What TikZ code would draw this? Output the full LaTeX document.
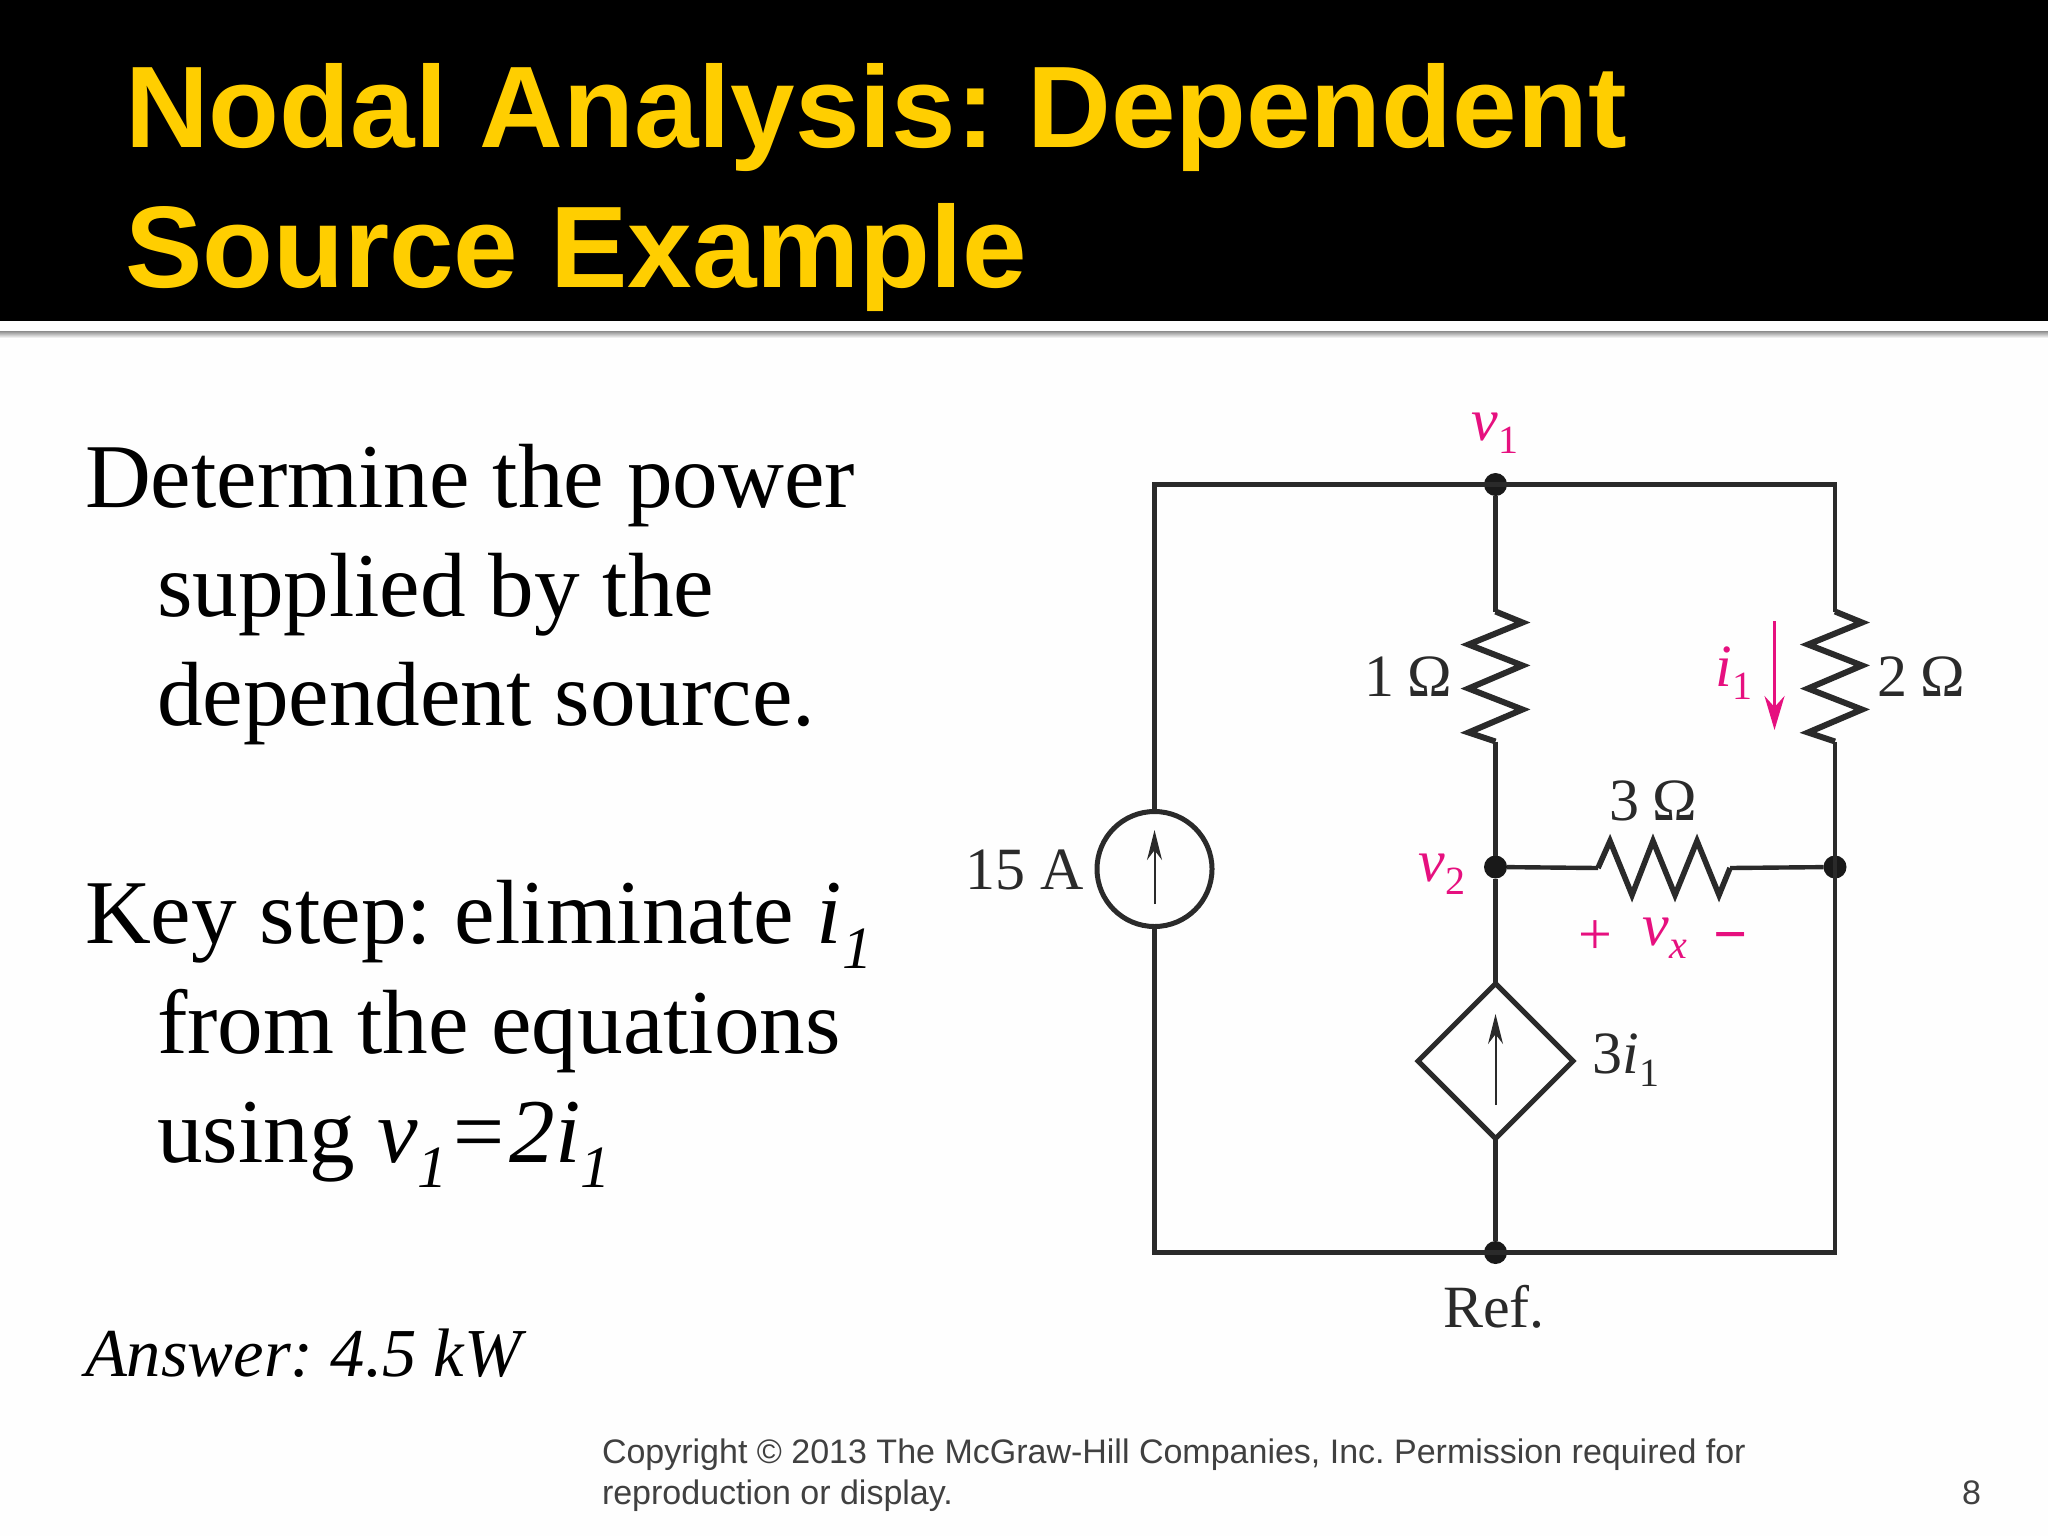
\documentclass[tikz,border=0pt]{standalone}
\usepackage{fontspec}
\setmainfont{Liberation Serif}
\setsansfont{Liberation Sans}
\usetikzlibrary{arrows.meta,positioning,shapes.geometric}
\definecolor{titleyellow}{HTML}{FFCE00}
\definecolor{labelpink}{HTML}{E6107F}
\definecolor{wiregray}{HTML}{2A2A2A}
\definecolor{notegray}{HTML}{404040}
\newcommand{\subone}{\raisebox{-0.28em}{\fontsize{30pt}{30pt}\selectfont\itshape 1}}
\newcommand{\labelsub}[1]{\raisebox{-0.22em}{\fontsize{20pt}{20pt}\selectfont #1}}
\frenchspacing
\begin{document}
\begin{tikzpicture}[x=0.5pt,y=-0.5pt] % one unit is one pixel of the slide, y runs down
\tikzset{every node/.style={inner sep=0pt,outer sep=0pt}}
\tikzset{titletext/.style={anchor=base west,text=titleyellow,font=\sffamily\bfseries\fontsize{58pt}{70pt}\selectfont}}
\tikzset{bodytext/.style={anchor=base west,text=black,font=\fontsize{45.6pt}{55pt}\selectfont}}
\tikzset{notetext/.style={anchor=base west,text=notegray,font=\sffamily\fontsize{17pt}{20pt}\selectfont}}
\tikzset{valuetext/.style={text=wiregray,font=\fontsize{30pt}{32pt}\selectfont}}
\tikzset{pinktext/.style={text=labelpink,font=\fontsize{30pt}{32pt}\selectfont}}
\tikzset{wire/.style={draw=wiregray,line width=2.2pt,line join=miter}}
\tikzset{junction/.style={circle,fill=black!90,minimum size=11.5pt}}
\tikzset{thinarrow/.style={draw=wiregray,line width=1pt,-{Stealth[length=15pt,width=7.5pt]}}}
\useasboundingbox (0,0) rectangle (2048,1536);
\fill[white!99.6!black] (0,0) rectangle (2048,1536);
\fill[black] (0,0) rectangle (2048,321);
\shade[top color=black!45,bottom color=white] (0,331) rectangle (2048,338);
% title and text of the slide
\node[titletext] (title1) at (125,148) {Nodal Analysis: Dependent};
\node[titletext] (title2) at (125,287) {Source Example};
\node[bodytext] (task1) at (85,507) {Determine the power};
\node[bodytext] (task2) at (157,616) {supplied by the};
\node[bodytext] (task3) at (157,725) {dependent source.};
\node[bodytext] (step1) at (85,943) {Key step: eliminate \textit{i}\subone};
\node[bodytext] (step2) at (157,1053) {from the equations};
\node[bodytext] (step3) at (157,1162) {using \textit{v}\subone\textit{=2i}\subone};
\node[bodytext,font=\itshape\fontsize{34.3pt}{40pt}\selectfont] (answer) at (85,1376) {Answer: 4.5 kW};
\node[notetext] (copy1) at (602,1463) {Copyright © 2013 The McGraw-Hill Companies, Inc. Permission required for};
\node[notetext] (copy2) at (602,1504) {reproduction or display.};
\node[notetext] (pagenum) at (1962,1504) {8};
% corners and junctions of the circuit
\coordinate (tl) at (1154.5,484.5);
\coordinate (tr) at (1835,484.5);
\coordinate (bl) at (1154.5,1252.5);
\coordinate (br) at (1835,1252.5);
\node[junction] (n1) at (1495.5,484.5) {};
\node[junction] (n2) at (1495.5,867) {};
\node[junction] (n3) at (1835,867) {};
\node[junction] (nref) at (1495.5,1252.5) {};
\node[draw=wiregray,line width=2.5pt,circle,minimum size=57.5pt] (isrc) at (1154.5,869) {};
\node[draw=wiregray,line width=2.5pt,diamond,aspect=1,minimum width=77.5pt,minimum height=77.5pt] (dsrc) at (1495.5,1061) {};
% resistor ends
\coordinate (r1t) at (1495.5,611.5);
\coordinate (r1b) at (1495.5,741.5);
\coordinate (r2t) at (1835,611.5);
\coordinate (r2b) at (1835,741.5);
\coordinate (r3l) at (1598,868);
\coordinate (r3r) at (1730,868);
% wires
\draw[wire] (isrc.north) -- (tl) -- (tr) -- (r2t);
\draw[wire] (isrc.south) -- (bl) -- (br) -- (r2b);
\draw[wire] (n1) -- (r1t);
\draw[wire] (r1b) -- (n2);
\draw[wire] (n2) -- (dsrc.north);
\draw[wire] (dsrc.south) -- (nref);
\draw[wire] (n2) -- (r3l);
\draw[wire] (r3r) -- (n3);
% the three resistors
\foreach \rtop/\rbot in {r1t/r1b,r2t/r2b}
  \draw[wire,line width=3pt] (\rtop) -- ++(27,11) -- ++(-54,22) -- ++(54,21) -- ++(-54,23) -- ++(54,21) -- ++(-54,23) -- (\rbot);
\draw[wire,line width=2.8pt] (r3l) -- ++(12,-27) -- ++(22,54) -- ++(21,-54) -- ++(22,54) -- ++(22,-54) -- ++(22,54) -- (r3r);
% arrows inside the sources, and the current arrow
\coordinate (isrcb) at (1154.5,904);
\coordinate (isrct) at (1154.5,830);
\coordinate (dsrcb) at (1495.5,1105);
\coordinate (dsrct) at (1495.5,1014);
\coordinate (i1t) at (1774.5,621);
\coordinate (i1b) at (1774.5,730);
\draw[thinarrow] (isrcb) -- (isrct);
\draw[thinarrow] (dsrcb) -- (dsrct);
\draw[thinarrow,draw=labelpink,fill=labelpink,line width=1.3pt,-{Stealth[length=17pt,width=10pt]}] (i1t) -- (i1b);
% labels of the circuit
\node[pinktext] (v1lab) at (1495,433) {\textit{v}\labelsub{1}};
\node[pinktext] (v2lab) at (1442,874) {\textit{v}\labelsub{2}};
\node[pinktext] (i1lab) at (1734,673) {\textit{i}\labelsub{1}};
\node[pinktext] (plus) at (1595,938) {+};
\node[pinktext] (vxlab) at (1665,938) {\textit{v}\labelsub{\textit{x}}};
\node[pinktext,font=\bfseries\fontsize{30pt}{32pt}\selectfont] (minus) at (1731,943) {−};
\node[valuetext] (r1lab) at (1408,677) {1\hspace{0.22em}Ω};
\node[valuetext] (r2lab) at (1921,677) {2\hspace{0.22em}Ω};
\node[valuetext] (r3lab) at (1653,801) {3\hspace{0.22em}Ω};
\node[valuetext] (isrclab) at (1025,870) {15 A};
\node[valuetext] (dsrclab) at (1626,1060) {3\textit{i}\labelsub{1}};
\node[valuetext] (reflab) at (1494,1307) {Ref.};
\end{tikzpicture}
\end{document}
